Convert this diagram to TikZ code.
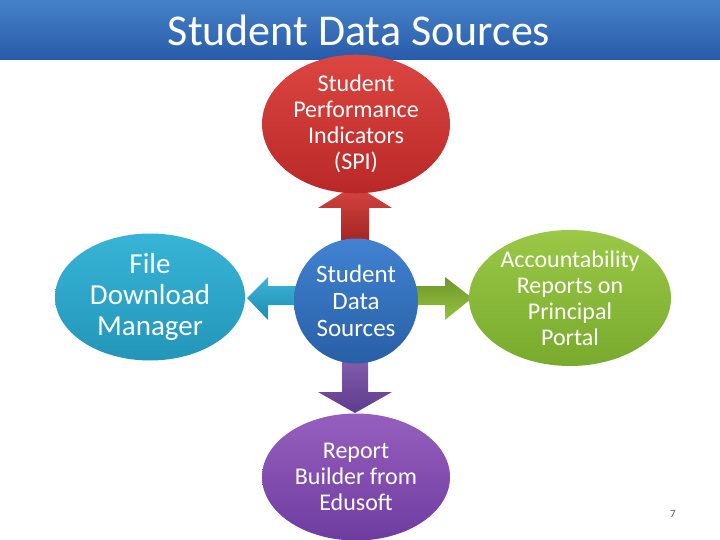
\documentclass[tikz,border=0pt]{standalone}
\usepackage{fontspec}
\setmainfont{Carlito}
\usetikzlibrary{shapes.geometric}
\begin{document}
\begin{tikzpicture}[x=1pt,y=-1pt,
  bub/.style={ellipse,draw=none,text=white,align=center,font=\fontsize{24}{26}\selectfont,inner sep=0pt}]
\useasboundingbox (0,0) rectangle (720,540);
\fill[white] (0,0) rectangle (720,540);
% title bar
\shade[top color={rgb,255:red,70;green,130;blue,200},bottom color={rgb,255:red,40;green,90;blue,170}] (0,0) rectangle (720,60);
\node[text=white,font=\fontsize{44}{48}\selectfont] (title) at (359,30) {Student Data Sources};
% arrows
\shade[top color={rgb,255:red,215;green,70;blue,65},bottom color={rgb,255:red,160;green,35;blue,35}]
  (355,185) -- (392,208) -- (369,208) -- (369,245) -- (341,245) -- (341,208) -- (318,208) -- cycle;
\shade[top color={rgb,255:red,60;green,180;blue,215},bottom color={rgb,255:red,30;green,140;blue,180}]
  (247,298) -- (268,277) -- (268,286) -- (300,286) -- (300,305) -- (268,305) -- (268,320) -- cycle;
\shade[top color={rgb,255:red,110;green,150;blue,45},bottom color={rgb,255:red,150;green,195;blue,60}]
  (472,298) -- (445,277) -- (445,286) -- (405,286) -- (405,305) -- (445,305) -- (445,320) -- cycle;
\shade[top color={rgb,255:red,135;green,95;blue,175},bottom color={rgb,255:red,95;green,60;blue,140}]
  (355,413) -- (392,392) -- (368,392) -- (368,355) -- (342,355) -- (342,392) -- (318,392) -- cycle;
% bubbles
\node[bub,minimum width=188,minimum height=125,
  top color={rgb,255:red,220;green,70;blue,65},bottom color={rgb,255:red,185;green,40;blue,40}] (spi) at (356,124)
  {Student\\Performance\\Indicators\\(SPI)};
\node[bub,minimum width=190,minimum height=127,font=\fontsize{29}{31}\selectfont,
  top color={rgb,255:red,55;green,180;blue,215},bottom color={rgb,255:red,35;green,150;blue,185}] (fdm) at (150,297)
  {File\\Download\\Manager};
\node[bub,minimum width=202,minimum height=136,
  top color={rgb,255:red,155;green,200;blue,70},bottom color={rgb,255:red,120;green,170;blue,45}] (acc) at (570,298)
  {Accountability\\Reports on\\Principal\\Portal};
\node[bub,minimum width=188,minimum height=127,
  top color={rgb,255:red,150;green,95;blue,190},bottom color={rgb,255:red,110;green,60;blue,160}] (rb) at (356,477)
  {Report\\Builder from\\Edusoft};
\node[bub,minimum width=124,minimum height=125,font=\fontsize{25}{27}\selectfont,
  top color={rgb,255:red,65;green,130;blue,210},bottom color={rgb,255:red,40;green,95;blue,165}] (sds) at (356,301)
  {Student\\Data\\Sources};
\node[text=gray!70!black,font=\fontsize{11}{12}\selectfont] (pg) at (673,514) {7};
\end{tikzpicture}
\end{document}
